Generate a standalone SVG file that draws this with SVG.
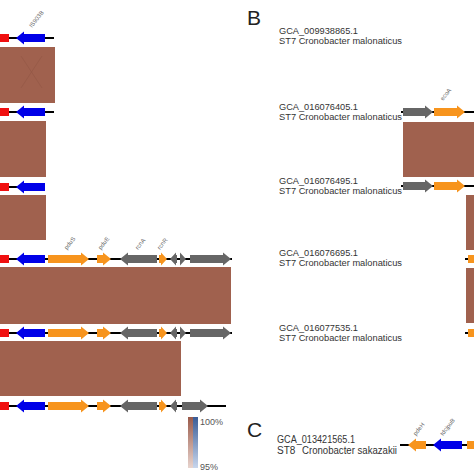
<svg xmlns="http://www.w3.org/2000/svg" width="474" height="474" viewBox="0 0 474 474">
<style>
.blk{fill:#a0614e}
.ln{stroke:#000;stroke-width:2;fill:none}
.red{fill:#f01010}
.blu{fill:#0000e8}
.org{fill:#f7941d}
.gry{fill:#666}
.gl{font-family:"Liberation Sans",Arial,sans-serif;font-size:6px;fill:#666}
.lab{font-family:"Liberation Sans",Arial,sans-serif;font-size:8.5px;fill:#333}
.lab2{font-family:"Liberation Sans",Arial,sans-serif;font-size:10px;fill:#333}
.pl{font-family:"Liberation Sans",Arial,sans-serif;font-size:21px;fill:#222}
.leg{font-family:"Liberation Sans",Arial,sans-serif;font-size:9px;fill:#555}
</style>
<defs>
<linearGradient id="gb" x1="0" y1="0" x2="0" y2="1"><stop offset="0" stop-color="#9a5a4a"/><stop offset="1" stop-color="#e8d4ce"/></linearGradient>
<linearGradient id="gl" x1="0" y1="0" x2="0" y2="1"><stop offset="0" stop-color="#3a5c96"/><stop offset="1" stop-color="#c8d6ec"/></linearGradient>
<g id="base">
<rect class="red" x="0" y="-4" width="9" height="8"/>
<path class="blu" d="M16,0 L24,-6.5 L24,-4 L45,-4 L45,4 L24,4 L24,6.5Z"/>
</g>
<g id="mid">
<path class="org" d="M48,-4 L81,-4 L81,-6.5 L89,0 L81,6.5 L81,4 L48,4Z"/>
<path class="org" d="M97,-4 L103,-4 L103,-6.5 L111,0 L103,6.5 L103,4 L97,4Z"/>
<path class="gry" d="M120,0 L128,-6.5 L128,-4 L157,-4 L157,4 L128,4 L128,6.5Z"/>
<path class="org" d="M159,-4 L161,-4 L161,-6.5 L167,0 L161,6.5 L161,4 L159,4Z"/>
<path class="gry" d="M170,0 L176,-6.5 L176,-4 L177,-4 L177,4 L176,4 L176,6.5Z"/>
</g>
<g id="btrack">
<path class="ln" d="M401,0 L474,0"/>
<path class="gry" d="M403,-4 L425,-4 L425,-6.5 L433,0 L425,6.5 L425,4 L403,4Z"/>
<path class="org" d="M434,-4 L457,-4 L457,-6.5 L465,0 L457,6.5 L457,4 L434,4Z"/>
</g>
</defs>

<g id="blocks">
<rect class="blk" x="0" y="47" width="55" height="56"/>
<path d="M21,56 L42,88 M42,56 L21,88" stroke="#8a5040" stroke-width="0.6" opacity="0.6"/>
<rect class="blk" x="0" y="121" width="46" height="56"/>
<rect class="blk" x="0" y="195" width="46" height="45"/>
<rect class="blk" x="0" y="267" width="231" height="57"/>
<rect class="blk" x="0" y="341" width="181" height="55"/>
<rect class="blk" x="403" y="122" width="71" height="55"/>
<rect class="blk" x="466" y="195" width="8" height="55"/>
<rect class="blk" x="466" y="268" width="8" height="55"/>
</g>

<g id="trackA1" transform="translate(0,38)">
<path class="ln" d="M9,0 L54,0"/>
<use href="#base"/>
</g>
<g id="trackA2" transform="translate(0,112)">
<path class="ln" d="M9,0 L54,0"/>
<use href="#base"/>
</g>
<g id="trackA3" transform="translate(0,187)">
<path class="ln" d="M9,0 L45,0"/>
<use href="#base"/>
</g>
<g id="trackA4" transform="translate(0,259)">
<path class="ln" d="M9,0 L232,0"/>
<use href="#base"/>
<use href="#mid"/>
<path class="gry" d="M180,-6.5 L186,0 L180,6.5Z"/>
<path class="gry" d="M190,-4 L223,-4 L223,-6.5 L231,0 L223,6.5 L223,4 L190,4Z"/>
</g>
<g id="trackA5" transform="translate(0,333)">
<path class="ln" d="M9,0 L232,0"/>
<use href="#base"/>
<use href="#mid"/>
<path class="gry" d="M180,-6.5 L186,0 L180,6.5Z"/>
<path class="gry" d="M190,-4 L223,-4 L223,-6.5 L231,0 L223,6.5 L223,4 L190,4Z"/>
</g>
<g id="trackA6" transform="translate(0,406)">
<path class="ln" d="M9,0 L226,0"/>
<use href="#base"/>
<use href="#mid"/>
<path class="gry" d="M182,-4 L200,-4 L200,-6.5 L208,0 L200,6.5 L200,4 L182,4Z"/>
</g>

<g id="geneLabelsA">
<text class="gl" transform="translate(-8,24) rotate(-52)">orf1</text>
<text class="gl" transform="translate(32,28) rotate(-52)">IS903B</text>
<text class="gl" transform="translate(67,250) rotate(-52)">pduS</text>
<text class="gl" transform="translate(101,250) rotate(-52)">pduE</text>
<text class="gl" transform="translate(138,250) rotate(-52)">rcnA</text>
<text class="gl" transform="translate(160,250) rotate(-52)">rcnR</text>
</g>

<g id="legend">
<rect x="188" y="417" width="5" height="51" fill="url(#gb)"/>
<rect x="193" y="417" width="5" height="51" fill="url(#gl)"/>
<text class="leg" x="200" y="425">100%</text>
<text class="leg" x="200" y="470">95%</text>
</g>

<text class="pl" x="247" y="25">B</text>
<g id="B1">
<text class="lab" x="279" y="34.3" textLength="79" lengthAdjust="spacingAndGlyphs">GCA_009938865.1</text>
<text class="lab" x="279" y="43.8" textLength="123" lengthAdjust="spacingAndGlyphs">ST7 Cronobacter malonaticus</text>
</g>
<g id="B2">
<text class="lab" x="279" y="110.3" textLength="79" lengthAdjust="spacingAndGlyphs">GCA_016076405.1</text>
<text class="lab" x="279" y="119.8" textLength="123" lengthAdjust="spacingAndGlyphs">ST7 Cronobacter malonaticus</text>
<use href="#btrack" transform="translate(0,112)"/>
<text class="gl" transform="translate(443,101) rotate(-52)">ecoA</text>
</g>
<g id="B3">
<text class="lab" x="279" y="184.3" textLength="79" lengthAdjust="spacingAndGlyphs">GCA_016076495.1</text>
<text class="lab" x="279" y="193.8" textLength="123" lengthAdjust="spacingAndGlyphs">ST7 Cronobacter malonaticus</text>
<use href="#btrack" transform="translate(0,186)"/>
</g>
<g id="B4">
<text class="lab" x="279" y="256.3" textLength="79" lengthAdjust="spacingAndGlyphs">GCA_016076695.1</text>
<text class="lab" x="279" y="265.8" textLength="123" lengthAdjust="spacingAndGlyphs">ST7 Cronobacter malonaticus</text>
<path class="ln" d="M465,259 L469,259"/>
<rect class="org" x="468" y="255" width="6" height="8"/>
</g>
<g id="B5">
<text class="lab" x="279" y="331.3" textLength="79" lengthAdjust="spacingAndGlyphs">GCA_016077535.1</text>
<text class="lab" x="279" y="340.8" textLength="123" lengthAdjust="spacingAndGlyphs">ST7 Cronobacter malonaticus</text>
<path class="ln" d="M465,333 L469,333"/>
<rect class="org" x="468" y="329" width="6" height="8"/>
</g>

<text class="pl" x="247" y="437">C</text>
<g id="C1">
<text class="lab2" x="277" y="443" textLength="78" lengthAdjust="spacingAndGlyphs">GCA_013421565.1</text>
<text class="lab2" x="277" y="454">ST8 <tspan x="302" textLength="95" lengthAdjust="spacingAndGlyphs">Cronobacter sakazakii</tspan></text>
<path class="ln" d="M400,445 L474,445"/>
<path class="org" d="M408,445 L416,438.5 L416,441 L426,441 L426,449 L416,449 L416,451.5Z"/>
<path class="blu" d="M433,445 L441,438.5 L441,441 L462,441 L462,449 L441,449 L441,451.5Z"/>
<rect class="org" x="467" y="441" width="7" height="8"/>
<text class="gl" transform="translate(416,436) rotate(-52)">pdeH</text>
<text class="gl" transform="translate(443,436) rotate(-52)">tdcjpuB</text>
</g>
</svg>
